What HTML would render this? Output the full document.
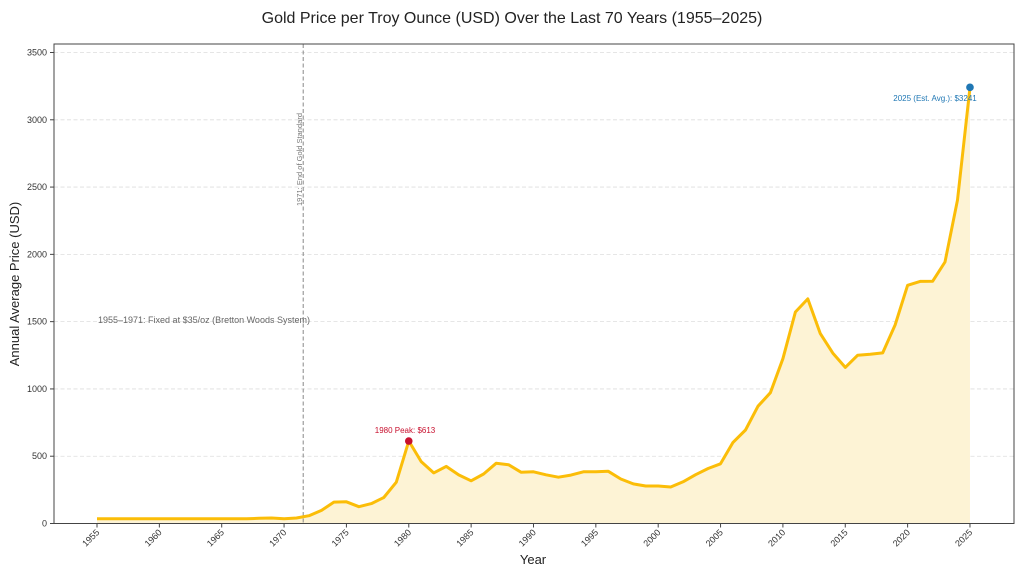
<!DOCTYPE html>
<html><head><meta charset="utf-8"><style>
html,body{margin:0;padding:0;background:#fff;}
svg text{font-family:"Liberation Sans",sans-serif;}
</style></head><body>
<svg id="s" width="1024" height="576" xmlns="http://www.w3.org/2000/svg">
<rect width="1024" height="576" fill="#fff"/>
<g id="grid"></g>
<path id="area" fill="#fdf3d5" stroke="none"/>
<line x1="303.2" y1="44" x2="303.2" y2="523.5" stroke="#888" stroke-width="1" stroke-dasharray="4,2.5"/>
<path id="line" fill="none" stroke="#fbbd08" stroke-width="3" stroke-linejoin="round"/>
<rect x="54" y="44" width="960" height="479.5" fill="none" stroke="#444" stroke-width="1"/>
<g id="ticks" font-size="9" fill="#333"></g>
<text x="512" y="23" font-size="16" text-anchor="middle" fill="#222">Gold Price per Troy Ounce (USD) Over the Last 70 Years (1955–2025)</text>
<text x="533" y="564" font-size="13" text-anchor="middle" fill="#222">Year</text>
<text transform="translate(19,284) rotate(-90)" font-size="13" text-anchor="middle" fill="#222">Annual Average Price (USD)</text>
<text x="98" y="323" font-size="9" fill="#666">1955–1971: Fixed at $35/oz (Bretton Woods System)</text>
<text transform="translate(302,206) rotate(-90)" font-size="7.5" fill="#777">1971: End of Gold Standard</text>
<text x="405" y="433" font-size="8" text-anchor="middle" fill="#c8102e">1980 Peak: $613</text>
<text x="935" y="101" font-size="8" text-anchor="middle" fill="#1f77b4">2025 (Est. Avg.): $3241</text>
<g id="pts"></g>
</svg>
<script>
var d={1955:35,1956:35,1957:35,1958:35,1959:35,1960:35,1961:35,1962:35,1963:35,1964:35,1965:35,1966:35,1967:35,1968:39,1969:41,1970:36,1971:41,1972:58,1973:97,1974:159,1975:161,1976:125,1977:148,1978:193,1979:307,1980:613,1981:460,1982:376,1983:424,1984:361,1985:317,1986:368,1987:447,1988:437,1989:381,1990:384,1991:362,1992:344,1993:360,1994:384,1995:384,1996:388,1997:331,1998:294,1999:279,2000:279,2001:271,2002:310,2003:363,2004:409,2005:444,2006:603,2007:695,2008:872,2009:972,2010:1225,2011:1572,2012:1669,2013:1411,2014:1266,2015:1160,2016:1251,2017:1257,2018:1268,2019:1475,2020:1770,2021:1799,2022:1800,2023:1943,2024:2404,2025:3241};
function X(y){return 97+(y-1955)*12.471;}function Y(v){return 523.5-v*0.13457;}
var p="",ns="http://www.w3.org/2000/svg";
for(var y=1955;y<=2025;y++){p+=(y==1955?"M":"L")+X(y).toFixed(1)+","+Y(d[y]).toFixed(1);}
document.getElementById("line").setAttribute("d",p);
document.getElementById("area").setAttribute("d",p+"L"+X(2025)+",523.5L"+X(1955)+",523.5Z");
var g=document.getElementById("grid"),t=document.getElementById("ticks");
function el(n,a,par,txt){var e=document.createElementNS(ns,n);for(var k in a)e.setAttribute(k,a[k]);if(txt)e.textContent=txt;par.appendChild(e);return e;}
for(var v=0;v<=3500;v+=500){var yy=Y(v);if(v>0)el("line",{x1:54,x2:1014,y1:yy,y2:yy,stroke:"#ddd","stroke-dasharray":"4,2.5","stroke-width":0.8},g);
el("line",{x1:50,x2:54,y1:yy,y2:yy,stroke:"#444"},t);el("text",{x:47,y:yy+3,"text-anchor":"end"},t,""+v);}
for(var y=1955;y<=2025;y+=5){var xx=X(y);el("line",{x1:xx,x2:xx,y1:523.5,y2:527.5,stroke:"#444"},t);
el("text",{transform:"translate("+(xx+3)+",533) rotate(-45)","text-anchor":"end"},t,""+y);}
var pts=document.getElementById("pts");
el("circle",{cx:X(1980),cy:Y(613),r:3.8,fill:"#c8102e"},pts);
el("circle",{cx:X(2025),cy:Y(3241),r:3.8,fill:"#1f77b4"},pts);
</script>
</body></html>
